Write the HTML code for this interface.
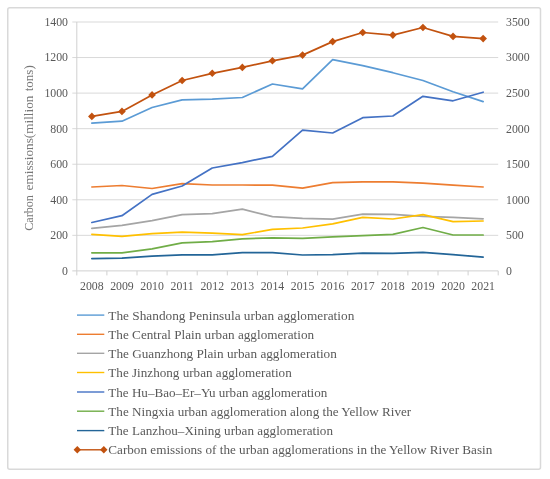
<!DOCTYPE html><html><head><meta charset="utf-8"><style>html,body{margin:0;padding:0;background:#fff;width:550px;height:479px;overflow:hidden}svg{display:block}text{font-family:"Liberation Serif",serif;fill:#595959}</style></head><body>
<svg width="550" height="479" viewBox="0 0 550 479">
<rect x="7.75" y="7.75" width="532.75" height="461.5" rx="2" fill="#fff" stroke="#d9d9d9" stroke-width="1.5"/>
<line x1="72.30" y1="235.34" x2="498.20" y2="235.34" stroke="#d9d9d9" stroke-width="1"/>
<line x1="72.30" y1="199.79" x2="498.20" y2="199.79" stroke="#d9d9d9" stroke-width="1"/>
<line x1="72.30" y1="164.23" x2="498.20" y2="164.23" stroke="#d9d9d9" stroke-width="1"/>
<line x1="72.30" y1="128.67" x2="498.20" y2="128.67" stroke="#d9d9d9" stroke-width="1"/>
<line x1="72.30" y1="93.11" x2="498.20" y2="93.11" stroke="#d9d9d9" stroke-width="1"/>
<line x1="72.30" y1="57.56" x2="498.20" y2="57.56" stroke="#d9d9d9" stroke-width="1"/>
<line x1="72.30" y1="22.00" x2="498.20" y2="22.00" stroke="#d9d9d9" stroke-width="1"/>
<line x1="76.80" y1="22.00" x2="76.80" y2="275.40" stroke="#d0d0d0" stroke-width="1"/>
<line x1="72.30" y1="270.90" x2="498.20" y2="270.90" stroke="#d0d0d0" stroke-width="1"/>
<line x1="106.90" y1="270.90" x2="106.90" y2="275.40" stroke="#d0d0d0" stroke-width="1"/>
<line x1="137.00" y1="270.90" x2="137.00" y2="275.40" stroke="#d0d0d0" stroke-width="1"/>
<line x1="167.10" y1="270.90" x2="167.10" y2="275.40" stroke="#d0d0d0" stroke-width="1"/>
<line x1="197.20" y1="270.90" x2="197.20" y2="275.40" stroke="#d0d0d0" stroke-width="1"/>
<line x1="227.30" y1="270.90" x2="227.30" y2="275.40" stroke="#d0d0d0" stroke-width="1"/>
<line x1="257.40" y1="270.90" x2="257.40" y2="275.40" stroke="#d0d0d0" stroke-width="1"/>
<line x1="287.50" y1="270.90" x2="287.50" y2="275.40" stroke="#d0d0d0" stroke-width="1"/>
<line x1="317.60" y1="270.90" x2="317.60" y2="275.40" stroke="#d0d0d0" stroke-width="1"/>
<line x1="347.70" y1="270.90" x2="347.70" y2="275.40" stroke="#d0d0d0" stroke-width="1"/>
<line x1="377.80" y1="270.90" x2="377.80" y2="275.40" stroke="#d0d0d0" stroke-width="1"/>
<line x1="407.90" y1="270.90" x2="407.90" y2="275.40" stroke="#d0d0d0" stroke-width="1"/>
<line x1="438.00" y1="270.90" x2="438.00" y2="275.40" stroke="#d0d0d0" stroke-width="1"/>
<line x1="468.10" y1="270.90" x2="468.10" y2="275.40" stroke="#d0d0d0" stroke-width="1"/>
<line x1="498.20" y1="270.90" x2="498.20" y2="275.40" stroke="#d0d0d0" stroke-width="1"/>
<text x="68" y="274.80" font-size="11.8" text-anchor="end">0</text>
<text x="506" y="274.80" font-size="11.8">0</text>
<text x="68" y="239.24" font-size="11.8" text-anchor="end">200</text>
<text x="506" y="239.24" font-size="11.8">500</text>
<text x="68" y="203.69" font-size="11.8" text-anchor="end">400</text>
<text x="506" y="203.69" font-size="11.8">1000</text>
<text x="68" y="168.13" font-size="11.8" text-anchor="end">600</text>
<text x="506" y="168.13" font-size="11.8">1500</text>
<text x="68" y="132.57" font-size="11.8" text-anchor="end">800</text>
<text x="506" y="132.57" font-size="11.8">2000</text>
<text x="68" y="97.01" font-size="11.8" text-anchor="end">1000</text>
<text x="506" y="97.01" font-size="11.8">2500</text>
<text x="68" y="61.46" font-size="11.8" text-anchor="end">1200</text>
<text x="506" y="61.46" font-size="11.8">3000</text>
<text x="68" y="25.90" font-size="11.8" text-anchor="end">1400</text>
<text x="506" y="25.90" font-size="11.8">3500</text>
<text x="91.85" y="289.6" font-size="11.8" text-anchor="middle">2008</text>
<text x="121.95" y="289.6" font-size="11.8" text-anchor="middle">2009</text>
<text x="152.05" y="289.6" font-size="11.8" text-anchor="middle">2010</text>
<text x="182.15" y="289.6" font-size="11.8" text-anchor="middle">2011</text>
<text x="212.25" y="289.6" font-size="11.8" text-anchor="middle">2012</text>
<text x="242.35" y="289.6" font-size="11.8" text-anchor="middle">2013</text>
<text x="272.45" y="289.6" font-size="11.8" text-anchor="middle">2014</text>
<text x="302.55" y="289.6" font-size="11.8" text-anchor="middle">2015</text>
<text x="332.65" y="289.6" font-size="11.8" text-anchor="middle">2016</text>
<text x="362.75" y="289.6" font-size="11.8" text-anchor="middle">2017</text>
<text x="392.85" y="289.6" font-size="11.8" text-anchor="middle">2018</text>
<text x="422.95" y="289.6" font-size="11.8" text-anchor="middle">2019</text>
<text x="453.05" y="289.6" font-size="11.8" text-anchor="middle">2020</text>
<text x="483.15" y="289.6" font-size="11.8" text-anchor="middle">2021</text>
<text transform="translate(32.6,230.8) rotate(-90)" font-size="12.5" style="fill:#777" textLength="35.7" lengthAdjust="spacingAndGlyphs">Carbon</text>
<text transform="translate(32.6,190.4) rotate(-90)" font-size="12.5" style="fill:#777" textLength="94.8" lengthAdjust="spacingAndGlyphs">emissions(million</text>
<text transform="translate(32.6,91.25) rotate(-90)" font-size="12.5" style="fill:#777" textLength="26.0" lengthAdjust="spacingAndGlyphs">tons)</text>
<polyline points="91.85,123.10 121.95,121.20 152.05,107.50 182.15,99.90 212.25,99.20 242.35,97.50 272.45,84.00 302.55,88.90 332.65,59.60 362.75,65.70 392.85,72.70 422.95,80.50 453.05,91.80 483.15,101.60" fill="none" stroke="#5B9BD5" stroke-width="1.7" stroke-linejoin="round" stroke-linecap="round"/>
<polyline points="91.85,187.00 121.95,185.50 152.05,188.50 182.15,183.60 212.25,185.00 242.35,185.00 272.45,185.10 302.55,188.10 332.65,182.70 362.75,181.80 392.85,181.80 422.95,183.20 453.05,185.10 483.15,187.00" fill="none" stroke="#ED7D31" stroke-width="1.7" stroke-linejoin="round" stroke-linecap="round"/>
<polyline points="91.85,228.40 121.95,225.30 152.05,220.60 182.15,214.70 212.25,213.70 242.35,209.20 272.45,216.60 302.55,218.40 332.65,219.20 362.75,214.20 392.85,214.40 422.95,216.40 453.05,217.30 483.15,218.80" fill="none" stroke="#A5A5A5" stroke-width="1.7" stroke-linejoin="round" stroke-linecap="round"/>
<polyline points="91.85,234.30 121.95,236.30 152.05,233.60 182.15,232.10 212.25,233.20 242.35,234.70 272.45,229.30 302.55,228.00 332.65,223.80 362.75,217.30 392.85,219.00 422.95,214.70 453.05,221.60 483.15,221.00" fill="none" stroke="#FFC000" stroke-width="1.7" stroke-linejoin="round" stroke-linecap="round"/>
<polyline points="91.85,222.50 121.95,215.70 152.05,194.40 182.15,186.00 212.25,168.00 242.35,162.60 272.45,156.30 302.55,130.20 332.65,133.00 362.75,117.70 392.85,116.00 422.95,96.30 453.05,100.80 483.15,92.20" fill="none" stroke="#4472C4" stroke-width="1.7" stroke-linejoin="round" stroke-linecap="round"/>
<polyline points="91.85,252.80 121.95,252.80 152.05,248.90 182.15,242.80 212.25,241.70 242.35,238.90 272.45,237.80 302.55,238.40 332.65,236.90 362.75,235.60 392.85,234.30 422.95,227.50 453.05,235.00 483.15,235.00" fill="none" stroke="#70AD47" stroke-width="1.7" stroke-linejoin="round" stroke-linecap="round"/>
<polyline points="91.85,258.70 121.95,258.10 152.05,256.10 182.15,254.80 212.25,254.80 242.35,252.60 272.45,252.60 302.55,255.00 332.65,254.60 362.75,253.10 392.85,253.30 422.95,252.40 453.05,254.60 483.15,257.20" fill="none" stroke="#236598" stroke-width="1.7" stroke-linejoin="round" stroke-linecap="round"/>
<polyline points="91.85,116.40 121.95,111.40 152.05,94.90 182.15,80.50 212.25,73.30 242.35,67.40 272.45,60.80 302.55,55.10 332.65,41.60 362.75,32.50 392.85,35.10 422.95,27.50 453.05,36.40 483.15,38.60" fill="none" stroke="#C2520F" stroke-width="1.7" stroke-linejoin="round" stroke-linecap="round"/>
<path d="M91.85 112.60L95.65 116.40L91.85 120.20L88.05 116.40Z" fill="#C2520F"/>
<path d="M121.95 107.60L125.75 111.40L121.95 115.20L118.15 111.40Z" fill="#C2520F"/>
<path d="M152.05 91.10L155.85 94.90L152.05 98.70L148.25 94.90Z" fill="#C2520F"/>
<path d="M182.15 76.70L185.95 80.50L182.15 84.30L178.35 80.50Z" fill="#C2520F"/>
<path d="M212.25 69.50L216.05 73.30L212.25 77.10L208.45 73.30Z" fill="#C2520F"/>
<path d="M242.35 63.60L246.15 67.40L242.35 71.20L238.55 67.40Z" fill="#C2520F"/>
<path d="M272.45 57.00L276.25 60.80L272.45 64.60L268.65 60.80Z" fill="#C2520F"/>
<path d="M302.55 51.30L306.35 55.10L302.55 58.90L298.75 55.10Z" fill="#C2520F"/>
<path d="M332.65 37.80L336.45 41.60L332.65 45.40L328.85 41.60Z" fill="#C2520F"/>
<path d="M362.75 28.70L366.55 32.50L362.75 36.30L358.95 32.50Z" fill="#C2520F"/>
<path d="M392.85 31.30L396.65 35.10L392.85 38.90L389.05 35.10Z" fill="#C2520F"/>
<path d="M422.95 23.70L426.75 27.50L422.95 31.30L419.15 27.50Z" fill="#C2520F"/>
<path d="M453.05 32.60L456.85 36.40L453.05 40.20L449.25 36.40Z" fill="#C2520F"/>
<path d="M483.15 34.80L486.95 38.60L483.15 42.40L479.35 38.60Z" fill="#C2520F"/>
<line x1="77" y1="315.1" x2="104.3" y2="315.1" stroke="#5B9BD5" stroke-width="1.4"/>
<text x="108.3" y="319.70" font-size="13" textLength="246" lengthAdjust="spacingAndGlyphs">The Shandong Peninsula urban agglomeration</text>
<line x1="77" y1="334.3" x2="104.3" y2="334.3" stroke="#ED7D31" stroke-width="1.4"/>
<text x="108.3" y="338.90" font-size="13" textLength="205.8" lengthAdjust="spacingAndGlyphs">The Central Plain urban agglomeration</text>
<line x1="77" y1="353.3" x2="104.3" y2="353.3" stroke="#A5A5A5" stroke-width="1.4"/>
<text x="108.3" y="357.90" font-size="13" textLength="228.5" lengthAdjust="spacingAndGlyphs">The Guanzhong Plain urban agglomeration</text>
<line x1="77" y1="372.5" x2="104.3" y2="372.5" stroke="#FFC000" stroke-width="1.4"/>
<text x="108.3" y="377.10" font-size="13" textLength="183.4" lengthAdjust="spacingAndGlyphs">The Jinzhong urban agglomeration</text>
<line x1="77" y1="392.0" x2="104.3" y2="392.0" stroke="#4472C4" stroke-width="1.4"/>
<text x="108.3" y="396.60" font-size="13" textLength="219" lengthAdjust="spacingAndGlyphs">The Hu–Bao–Er–Yu urban agglomeration</text>
<line x1="77" y1="411.2" x2="104.3" y2="411.2" stroke="#70AD47" stroke-width="1.4"/>
<text x="108.3" y="415.80" font-size="13" textLength="302.9" lengthAdjust="spacingAndGlyphs">The Ningxia urban agglomeration along the Yellow River</text>
<line x1="77" y1="430.6" x2="104.3" y2="430.6" stroke="#236598" stroke-width="1.4"/>
<text x="108.3" y="435.20" font-size="13" textLength="224.7" lengthAdjust="spacingAndGlyphs">The Lanzhou–Xining urban agglomeration</text>
<line x1="77" y1="449.8" x2="104.3" y2="449.8" stroke="#C2520F" stroke-width="1.4"/>
<path d="M77.30 446.10L81.00 449.80L77.30 453.50L73.60 449.80Z" fill="#C2520F"/>
<path d="M103.80 446.10L107.50 449.80L103.80 453.50L100.10 449.80Z" fill="#C2520F"/>
<text x="108.3" y="454.40" font-size="13" textLength="384" lengthAdjust="spacingAndGlyphs">Carbon emissions of the urban agglomerations in the Yellow River Basin</text>
</svg></body></html>
